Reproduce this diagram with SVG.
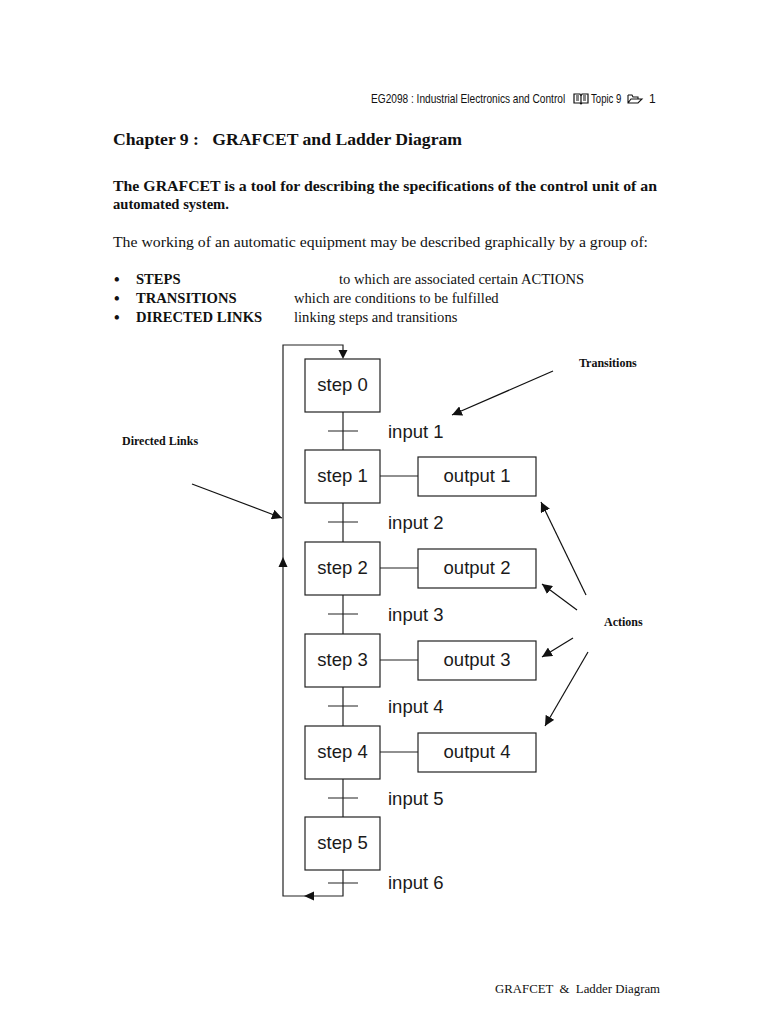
<svg xmlns="http://www.w3.org/2000/svg" width="768" height="1024" viewBox="0 0 768 1024">
<style>
.bg{fill:#fff}
.box{fill:#fff;stroke:#222;stroke-width:1.2}
.ln{fill:none;stroke:#222;stroke-width:1.2}
.al{fill:none;stroke:#111;stroke-width:1.2}
.lab{font-family:"Liberation Sans",Arial,sans-serif;font-size:18.5px;fill:#1a1a1a}
.ser{font-family:"Liberation Serif","Times New Roman",serif;fill:#111}
.b{font-weight:bold}
.hdr{font-family:"Liberation Sans",Arial,sans-serif;font-size:12px;fill:#111}
</style>
<defs>
<marker id="ah" viewBox="0 0 10 10" refX="10" refY="5" markerWidth="10" markerHeight="10" markerUnits="userSpaceOnUse" orient="auto">
<path d="M0,0 L10,5 L0,10 z" fill="#111"/>
</marker>
</defs>
<rect class="bg" width="768" height="1024"/>

<g id="header">
<text class="hdr" transform="translate(371,103) scale(0.845,1)">EG2098 : Industrial Electronics and Control</text>
<path d="M574,94 L580,94 L581,96 L582,94 L588,94 L588,103 L582,103 L581,104 L580,103 L574,103 Z M581,96 L581,103 M576,96 L579,96 M576,98 L579,98 M576,100 L579,100 M583,96 L586,96 M583,98 L586,98 M583,100 L586,100" fill="none" stroke="#111" stroke-width="1.2"/>
<text class="hdr" transform="translate(591,103) scale(0.8,1)">Topic 9</text>
<path d="M628,95 L632,95 L633,97 L638,97 L638,99 M628,95 L628,103 L638,103 L642,99 L631,99 L628,103" fill="none" stroke="#111" stroke-width="1.1"/>
<text class="hdr" x="649" y="103">1</text>
</g>

<g id="intro">
<text class="ser b" x="113" y="145" font-size="16.5" textLength="349" lengthAdjust="spacingAndGlyphs" xml:space="preserve">Chapter 9 :   GRAFCET and Ladder Diagram</text>
<text class="ser b" x="113" y="191" font-size="14.6" textLength="544" lengthAdjust="spacingAndGlyphs">The GRAFCET is a tool for describing the specifications of the control unit of an</text>
<text class="ser b" x="113" y="209" font-size="14.6">automated system.</text>
<text class="ser" x="113" y="247" font-size="14.6" textLength="535" lengthAdjust="spacingAndGlyphs">The working of an automatic equipment may be described graphically by a group of:</text>
<text class="ser b" x="114" y="285" font-size="16">•</text>
<text class="ser b" x="114" y="304" font-size="16">•</text>
<text class="ser b" x="114" y="323" font-size="16">•</text>
<text class="ser b" x="136" y="284" font-size="14.6">STEPS</text>
<text class="ser b" x="136" y="303" font-size="14.6">TRANSITIONS</text>
<text class="ser b" x="136" y="322" font-size="14.6">DIRECTED LINKS</text>
<text class="ser" x="339" y="284" font-size="14.6">to which are associated certain ACTIONS</text>
<text class="ser" x="294" y="303" font-size="14.6">which are conditions to be fulfilled</text>
<text class="ser" x="294" y="322" font-size="14.6">linking steps and transitions</text>
</g>

<g id="connectors">
<path class="ln" d="M343,412 V450 M343,503 V542 M343,595 V634 M343,687 V726 M343,779 V817"/>
<path class="ln" d="M343,870 V896 H283 V345 H343 V351"/>
<path d="M338.5,350 L347.5,350 L343,359 Z" fill="#111"/>
<path d="M304,896 L314,891.5 L314,900.5 Z" fill="#111"/>
<path d="M283,557 L278.5,567 L287.5,567 Z" fill="#111"/>
<path class="ln" d="M328,431 H358 M328,522 H358 M328,614 H358 M328,706 H358 M328,798 H358 M328,883 H358"/>
<path class="ln" d="M380,476 H418 M380,568 H418 M380,660 H418 M380,752 H418"/>
<line class="al" x1="553" y1="371" x2="452" y2="415" marker-end="url(#ah)"/>
<line class="al" x1="192" y1="484" x2="282" y2="518" marker-end="url(#ah)"/>
<line class="al" x1="586" y1="595" x2="541" y2="502" marker-end="url(#ah)"/>
<line class="al" x1="577" y1="610" x2="542" y2="584" marker-end="url(#ah)"/>
<line class="al" x1="573" y1="638" x2="542" y2="657" marker-end="url(#ah)"/>
<line class="al" x1="588" y1="652" x2="545" y2="726" marker-end="url(#ah)"/>
</g>

<g id="step0"><rect class="box" x="305" y="359" width="75" height="53"/><text class="lab" x="342.5" y="391" text-anchor="middle">step 0</text></g>
<g id="step1"><rect class="box" x="305" y="450" width="75" height="53"/><text class="lab" x="342.5" y="482" text-anchor="middle">step 1</text></g>
<g id="step2"><rect class="box" x="305" y="542" width="75" height="53"/><text class="lab" x="342.5" y="574" text-anchor="middle">step 2</text></g>
<g id="step3"><rect class="box" x="305" y="634" width="75" height="53"/><text class="lab" x="342.5" y="666" text-anchor="middle">step 3</text></g>
<g id="step4"><rect class="box" x="305" y="726" width="75" height="53"/><text class="lab" x="342.5" y="758" text-anchor="middle">step 4</text></g>
<g id="step5"><rect class="box" x="305" y="817" width="75" height="53"/><text class="lab" x="342.5" y="849" text-anchor="middle">step 5</text></g>

<g id="output1"><rect class="box" x="418" y="457" width="118" height="39"/><text class="lab" x="477" y="482" text-anchor="middle">output 1</text></g>
<g id="output2"><rect class="box" x="418" y="549" width="118" height="39"/><text class="lab" x="477" y="574" text-anchor="middle">output 2</text></g>
<g id="output3"><rect class="box" x="418" y="641" width="118" height="39"/><text class="lab" x="477" y="666" text-anchor="middle">output 3</text></g>
<g id="output4"><rect class="box" x="418" y="733" width="118" height="39"/><text class="lab" x="477" y="758" text-anchor="middle">output 4</text></g>

<g id="inputs">
<text class="lab" x="388" y="438">input 1</text>
<text class="lab" x="388" y="529">input 2</text>
<text class="lab" x="388" y="621">input 3</text>
<text class="lab" x="388" y="713">input 4</text>
<text class="lab" x="388" y="805">input 5</text>
<text class="lab" x="388" y="889">input 6</text>
</g>

<g id="annotations">
<text class="ser b" x="579" y="367" font-size="12">Transitions</text>
<text class="ser b" x="122" y="445" font-size="12">Directed Links</text>
<text class="ser b" x="604" y="626" font-size="12">Actions</text>
</g>

<g id="footer">
<text class="ser" x="495" y="993" font-size="12.8" xml:space="preserve">GRAFCET  &amp;  Ladder Diagram</text>
</g>
</svg>
